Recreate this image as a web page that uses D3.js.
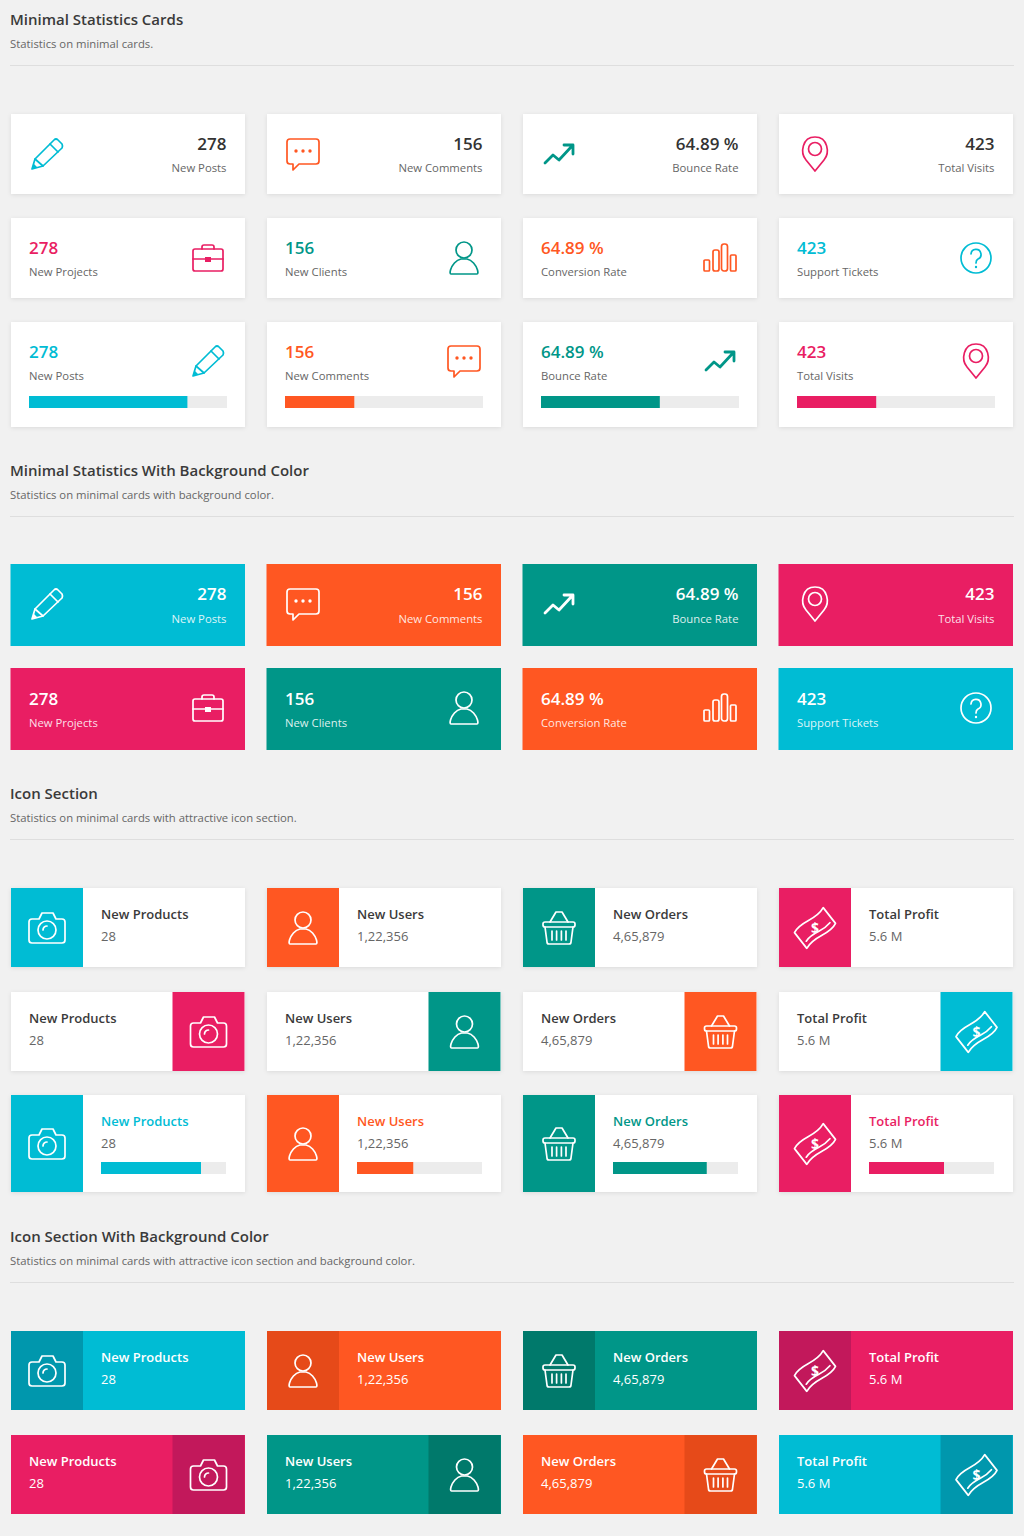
<!DOCTYPE html>
<html>
<head>
<meta charset="utf-8">
<script src="https://cdn.jsdelivr.net/npm/d3@7"></script>
<style>
  html, body { margin: 0; background: #f1f1f1; }
  svg { display: block; font-family: "Open Sans", sans-serif; }
  .card { filter: drop-shadow(0 1px 2px rgba(0, 0, 0, .09)); }
  .icon * { fill: none; stroke-width: 1.7; stroke-linejoin: round; stroke-linecap: round; }
  .icon .solid { fill: currentColor; stroke: none; }
  .icon .thick { stroke-width: 2.8; }
</style>
</head>
<body>
<div id="graph"></div>
<script>
var sectionTitles = ["Minimal Statistics Cards", "Minimal Statistics With Background Color", "Icon Section", "Icon Section With Background Color"];
var sectionSubtitles = ["Statistics on minimal cards.", "Statistics on minimal cards with background color.", "Statistics on minimal cards with attractive icon section.", "Statistics on minimal cards with attractive icon section and background color."];

var statValues = ["278", "156", "64.89 %", "423"];
var postLabels = ["New Posts", "New Comments", "Bounce Rate", "Total Visits"];
var projectLabels = ["New Projects", "New Clients", "Conversion Rate", "Support Tickets"];
var productTitles = ["New Products", "New Users", "New Orders", "Total Profit"];
var productValues = ["28", "1,22,356", "4,65,879", "5.6 M"];
var statPercents = [80, 35, 60, 40];
var productPercents = [80, 45, 75, 60];

var postIcons = ["pencil", "chat", "trend", "pin"];
var projectIcons = ["briefcase", "user", "bars", "help"];
var productIcons = ["camera", "user", "basket", "money"];

var cyan = "#00bcd4", orange = "#ff5722", teal = "#009688", pink = "#e91e63";
var colorsA = [cyan, orange, teal, pink];
var colorsB = [pink, teal, orange, cyan];
var darker = {};
darker[cyan] = "#0097ad"; darker[orange] = "#e64a19"; darker[teal] = "#00796b"; darker[pink] = "#c2185b";

// icon glyphs, drawn around 0,0
var icons = {
  pencil: [["path", { d: "M-15 15L-12 5L7-14Q9-16 11-14L15-10Q16-8 15-6L-4 12Z" }], ["path", { d: "M-12 5L-4 12M3-10L11-2" }], ["path", { class: "solid", d: "M-15 15L-13.5 9.5L-9.5 13.5Z" }]],
  chat: [["path", { d: "M-13-15H13Q16-15 16-12V7Q16 10 13 10H-4L-10 16V10H-13Q-16 10-16 7V-12Q-16-15-13-15Z" }], ["circle", { class: "solid", cx: -7, cy: -3, r: 1.7 }], ["circle", { class: "solid", cx: 0, cy: -3, r: 1.7 }], ["circle", { class: "solid", cx: 7, cy: -3, r: 1.7 }]],
  trend: [["path", { class: "thick", d: "M-14 9L-6 1L0 6L13-8M5-9H14V0" }]],
  pin: [["path", { d: "M0 17L-9 6C-15-1-13-17 0-17C13-17 15-1 9 6Z" }], ["circle", { cx: 0, cy: -5, r: 6.5 }]],
  briefcase: [["rect", { x: -15, y: -9, width: 30, height: 22, rx: 2 }], ["path", { d: "M-6-9V-11Q-6-13-4-13H4Q6-13 6-11V-9M-15 1H15" }], ["rect", { class: "solid", x: -3, y: -1, width: 6, height: 5 }]],
  user: [["circle", { cx: 0, cy: -8, r: 8 }], ["path", { d: "M-13 16Q-14.5 16-13.5 12C-12 7-8 2-3 1H3C8 2 12 7 13.5 12Q14.5 16 13 16Z" }]],
  bars: [["rect", { x: -16, y: 2, width: 5.5, height: 11, rx: 1 }], ["rect", { x: -7, y: -8, width: 6, height: 21, rx: 2 }], ["rect", { x: 1.5, y: -14, width: 6, height: 27, rx: 2.5 }], ["rect", { x: 10.5, y: -3, width: 5.5, height: 16, rx: 1 }]],
  help: [["circle", { cx: 0, cy: 0, r: 15 }], ["path", { d: "M-5-4A5 5 0 1 1 2 1Q0 2 0 5" }], ["circle", { class: "solid", cx: 0, cy: 9, r: 1.2 }]],
  camera: [["path", { d: "M-15-9H-8L-5-15H6L9-9H15Q18-9 18-6V12Q18 15 15 15H-15Q-18 15-18 12V-6Q-18-9-15-9Z" }], ["circle", { cx: 0, cy: 2, r: 9 }], ["path", { d: "M-4 2A4 4 0 0 1 0-2" }]],
  basket: [["path", { d: "M-9-6L-3-16H3L9-6" }], ["rect", { x: -16, y: -6, width: 32, height: 5, rx: 2 }], ["path", { d: "M-14-1L-12 14Q-12 16-10 16H10Q12 16 12 14L14-1M-7 3V12M-2.4 3V12M2.4 3V12M7 3V12" }]],
  money: [["g", { transform: "rotate(-38)" }, ["path", { d: "M-19-9C-13-12-7-11-1-10C5-9 12-8 19-11V9C13 12 7 11 1 10C-5 9-12 8-19 11Z" }], ["path", { d: "M-15 5C-9 3-4 4 1 5C6 6 10 6 15 5" }]], ["text", { class: "solid", "text-anchor": "middle", y: 4.5, "font-size": 14, "font-weight": 700 }, "$"]]
};

var width = 1024, height = 1536, cardW = 234;
var svg = d3.select("#graph").append("svg").attr("width", width).attr("height", height);

var x = d3.scaleBand().domain(d3.range(4)).range([11, 1035]);
var barX = d3.scaleLinear().domain([0, 100]);

function text(g, s, px, py, size, color, opts) {
  opts = opts || {};
  return g.append("text").text(s)
    .attr("x", px).attr("y", py)
    .attr("font-size", size)
    .attr("font-weight", opts.weight || 400)
    .attr("text-anchor", opts.anchor || "start")
    .attr("fill", color)
    .attr("fill-opacity", opts.opacity || 1);
}

function drawIcon(g, name, cx, cy, color) {
  var ic = g.append("g").attr("class", "icon")
    .attr("transform", "translate(" + cx + "," + cy + ")")
    .style("color", color);
  function add(parent, spec) {
    var el = parent.append(spec[0]);
    Object.keys(spec[1]).forEach(function(k) { el.attr(k, spec[1][k]); });
    spec.slice(2).forEach(function(c) {
      if (typeof c === "string") el.text(c); else add(el, c);
    });
    if (spec[0] === "text") el.style("fill", color);
    else if (spec[0] !== "g" && !el.classed("solid")) el.attr("stroke", color);
  }
  icons[name].forEach(function(s) { add(ic, s); });
}

function heading(i, top) {
  var g = svg.append("g");
  text(g, sectionTitles[i], 10, top + 5, 15, "#3a3a3a", { weight: 600 });
  text(g, sectionSubtitles[i], 10, top + 28, 11.3, "#666");
  g.append("line").attr("x1", 10).attr("x2", 1014).attr("y1", top + 45.5).attr("y2", top + 45.5).attr("stroke", "#dedede");
}

function bar(g, left, right, top, pct, color) {
  barX.range([left, right]);
  g.append("rect").attr("x", left).attr("y", top).attr("width", right - left).attr("height", 12).attr("fill", "#ececec");
  g.append("rect").attr("x", left).attr("y", top).attr("width", barX(pct) - left).attr("height", 12).attr("fill", color);
}

// value + label card, icon on the left or the right
function statRow(top, h, values, labels, iconNames, colors, o) {
  var dy = o.dy || 0;
  values.forEach(function(v, i) {
    var g = svg.append("g").attr("transform", "translate(" + x(i) + "," + top + ")");
    var c = colors[i], fg = o.filled ? "#fff" : c;
    var labelOpacity = o.filled ? .88 : 1;
    g.append("rect").attr("class", o.filled ? null : "card")
      .attr("x", o.filled ? -.5 : 0).attr("width", o.filled ? cardW + .5 : cardW).attr("height", h)
      .attr("fill", o.filled ? c : "#fff");
    if (o.iconLeft) {
      drawIcon(g, iconNames[i], 36, 40, fg);
      text(g, v, 215.5, 36 + dy, 17, o.filled ? "#fff" : "#333", { anchor: "end", weight: 600 });
      text(g, labels[i], 215.5, 58 + dy + (o.filled ? 1 : 0), 11.3, o.filled ? "#fff" : "#666", { anchor: "end", opacity: labelOpacity });
    } else {
      drawIcon(g, iconNames[i], 197, o.percents ? 39 : 40, fg);
      text(g, v, 18, 36 + dy, 17, fg, { weight: 600 });
      text(g, labels[i], 18, 58 + dy, 11.3, o.filled ? "#fff" : "#666", { opacity: labelOpacity });
    }
    if (o.percents) bar(g, 18, 216, 74, o.percents[i], c);
  });
}

// block of colour with icon + title and value
function iconRow(top, h, colors, o) {
  productTitles.forEach(function(t, i) {
    var g = svg.append("g").attr("transform", "translate(" + x(i) + "," + top + ")");
    var c = colors[i], filled = o.filled;
    g.append("rect").attr("class", filled ? null : "card").attr("width", cardW).attr("height", h).attr("fill", filled ? c : "#fff");
    var left = o.iconLeft, bx = left ? 0 : 161.5, tx = left ? 90 : 18;
    g.append("rect").attr("x", bx).attr("width", 72).attr("height", h).attr("fill", filled ? darker[c] : c);
    drawIcon(g, productIcons[i], bx + 36, o.percents ? 49 : 40, "#fff");
    text(g, t, tx, 31, 13, filled ? "#fff" : (o.percents ? c : "#3a3a3a"), { weight: 600 });
    text(g, productValues[i], tx, 53, 13, filled ? "#fff" : "#666");
    if (o.percents) bar(g, 90, 215, 67, o.percents[i], c);
  });
}

heading(0, 20);
statRow(114, 80, statValues, postLabels, postIcons, colorsA, { iconLeft: true });
statRow(218, 80, statValues, projectLabels, projectIcons, colorsB, {});
statRow(322, 105, statValues, postLabels, postIcons, colorsA, { percents: statPercents });

heading(1, 471);
statRow(564, 82, statValues, postLabels, postIcons, colorsA, { iconLeft: true, filled: true });
statRow(668, 82, statValues, projectLabels, projectIcons, colorsB, { filled: true, dy: 1 });

heading(2, 794);
iconRow(888, 79, colorsA, { iconLeft: true });
iconRow(992, 79, colorsB, {});
iconRow(1095, 97, colorsA, { iconLeft: true, percents: productPercents });

heading(3, 1237);
iconRow(1331, 79, colorsA, { iconLeft: true, filled: true });
iconRow(1435, 79, colorsB, { filled: true });
</script>
</body>
</html>
